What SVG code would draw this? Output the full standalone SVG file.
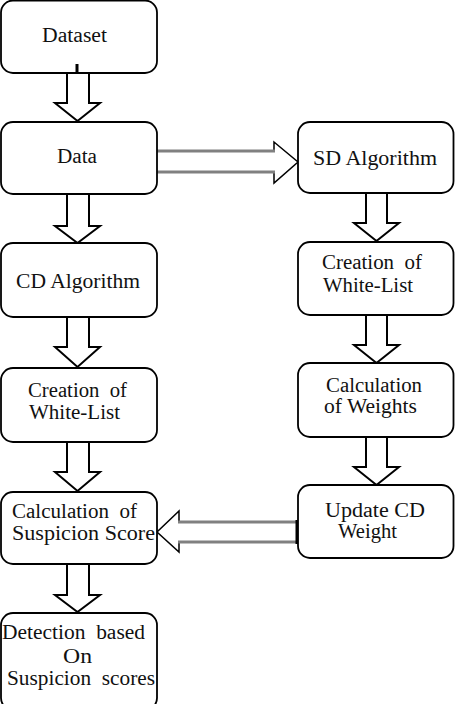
<svg xmlns="http://www.w3.org/2000/svg" width="456" height="704" viewBox="0 0 456 704" font-family="Liberation Serif, DejaVu Serif, serif">
<style>
.box{fill:#fff;stroke:#000;stroke-width:1.8}
.t{font-size:20px;fill:#111}
.ar{fill:#fff;stroke:#000;stroke-width:2;stroke-linejoin:miter}
.sh{stroke:#808080;stroke-width:3.2;fill:none}
.hd{fill:#fff;stroke:#000;stroke-width:1.5}
</style>
<rect width="456" height="704" fill="#fff"/>
<g id="connectors">
<path class="ar" d="M67,73 V103 H55 L77.5,121 L100,103 H89 V73"/>
<path class="ar" d="M67,194 V226 H55 L77.5,243 L100,226 H89 V194"/>
<path class="ar" d="M67,317 V347 H55 L77.5,367 L100,347 H89 V317"/>
<path class="ar" d="M67,442 V472 H55 L77.5,491 L100,472 H89 V442"/>
<path class="ar" d="M67,564 V595 H55 L77.5,612 L100,595 H89 V564"/>
<path class="ar" d="M366,193 V223 H354 L376.5,241 L399,223 H387 V193"/>
<path class="ar" d="M366,315 V345 H354 L376.5,363 L399,345 H387 V315"/>
<path class="ar" d="M366,437 V467 H354 L376.5,485 L399,467 H387 V437"/>
<path class="hd" d="M274,151 V142 L298,162 L274,183 V172"/>
<line class="sh" x1="157" y1="151" x2="275" y2="151"/>
<line class="sh" x1="157" y1="172" x2="275" y2="172"/>
<path class="hd" d="M179,522 V511 L157,532 L179,552 V542"/>
<line class="sh" x1="178" y1="522" x2="297" y2="522"/>
<line class="sh" x1="178" y1="542" x2="297" y2="542"/>
<line x1="297" y1="520" x2="297" y2="544" stroke="#000" stroke-width="3"/>
</g>
<g id="dataset"><rect class="box" x="1" y="0.5" width="156" height="72.5" rx="12"/><text class="t" x="42" y="42" textLength="65" lengthAdjust="spacingAndGlyphs">Dataset</text><line x1="77" y1="64" x2="77" y2="74" stroke="#000" stroke-width="3"/></g>
<g id="data"><rect class="box" x="1" y="122" width="156" height="72" rx="12"/><text class="t" x="57" y="163" textLength="40" lengthAdjust="spacingAndGlyphs">Data</text></g>
<g id="cd-algorithm"><rect class="box" x="1" y="243" width="156" height="74" rx="12"/><text class="t" x="16" y="288" textLength="124" lengthAdjust="spacingAndGlyphs">CD Algorithm</text></g>
<g id="cd-whitelist"><rect class="box" x="1" y="368" width="156" height="74" rx="12"/><text class="t" x="28" y="397" xml:space="preserve" textLength="99" lengthAdjust="spacingAndGlyphs">Creation  of</text><text class="t" x="29" y="419" textLength="91" lengthAdjust="spacingAndGlyphs">White-List</text></g>
<g id="suspicion-score"><rect class="box" x="1" y="492" width="156" height="72" rx="12"/><text class="t" x="12" y="518" xml:space="preserve" textLength="125" lengthAdjust="spacingAndGlyphs">Calculation  of</text><text class="t" x="12" y="540" textLength="143" lengthAdjust="spacingAndGlyphs">Suspicion Score</text></g>
<g id="detection"><rect class="box" x="1" y="613" width="156" height="97" rx="12"/><text class="t" x="2" y="639" xml:space="preserve" textLength="143" lengthAdjust="spacingAndGlyphs">Detection  based</text><text class="t" x="63" y="663" textLength="29" lengthAdjust="spacingAndGlyphs">On</text><text class="t" x="7" y="685" xml:space="preserve" textLength="148" lengthAdjust="spacingAndGlyphs">Suspicion  scores</text></g>
<g id="sd-algorithm"><rect class="box" x="298" y="122" width="155.5" height="71" rx="12"/><text class="t" x="313" y="165" textLength="124" lengthAdjust="spacingAndGlyphs">SD Algorithm</text></g>
<g id="sd-whitelist"><rect class="box" x="298" y="242" width="155.5" height="73" rx="12"/><text class="t" x="322" y="269" xml:space="preserve" textLength="100" lengthAdjust="spacingAndGlyphs">Creation  of</text><text class="t" x="323" y="292" textLength="90" lengthAdjust="spacingAndGlyphs">White-List</text></g>
<g id="weights"><rect class="box" x="298" y="363" width="155.5" height="74" rx="12"/><text class="t" x="326" y="392" textLength="96" lengthAdjust="spacingAndGlyphs">Calculation</text><text class="t" x="324" y="413" textLength="93" lengthAdjust="spacingAndGlyphs">of Weights</text></g>
<g id="update-cd"><rect class="box" x="298" y="485" width="155.5" height="73" rx="12"/><text class="t" x="325" y="517" textLength="100" lengthAdjust="spacingAndGlyphs">Update CD</text><text class="t" x="338" y="538" textLength="59" lengthAdjust="spacingAndGlyphs">Weight</text></g>
</svg>
